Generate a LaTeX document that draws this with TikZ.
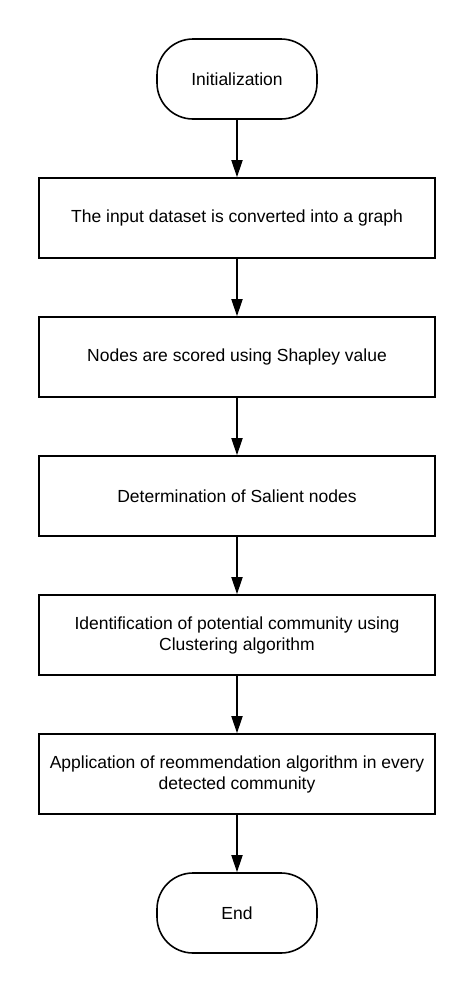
\documentclass[tikz,border=0pt]{standalone}
\usepackage{fontspec}
\setmainfont{Liberation Sans}
\usetikzlibrary{arrows.meta}
\begin{document}
\begin{tikzpicture}[x=1pt,y=1pt,
  stepbox/.style={draw=black, line width=1.6pt, minimum width=396pt, minimum height=80pt, align=center, font=\fontsize{17.5}{21}\selectfont, inner sep=0pt},
  termbox/.style={draw=black, line width=1.6pt, minimum width=160pt, minimum height=80pt, rounded corners=36pt, font=\fontsize{17.5}{21}\selectfont, inner sep=0pt},
  flow/.style={draw=black, line width=1.8pt, -{Triangle[length=17pt,width=11pt]}}]
\useasboundingbox (0,0) rectangle (474,-983);
\fill[white] (0,0) rectangle (474,-983);
\node[termbox] (init) at (237,-79) {Initialization};
\node[stepbox] (s1) at (237,-218) {The input dataset is converted into a graph};
\node[stepbox] (s2) at (237,-357) {Nodes are scored using Shapley value};
\node[stepbox] (s3) at (237,-496) {Determination of Salient nodes};
\node[stepbox] (s4) at (237,-635) {Identification of potential community using\\Clustering algorithm};
\node[stepbox] (s5) at (237,-774) {Application of reommendation algorithm in every\\detected community};
\node[termbox] (end) at (237,-913) {End};
\draw[flow] (init) -- (s1);
\draw[flow] (s1) -- (s2);
\draw[flow] (s2) -- (s3);
\draw[flow] (s3) -- (s4);
\draw[flow] (s4) -- (s5);
\draw[flow] (s5) -- (end);
\end{tikzpicture}
\end{document}
